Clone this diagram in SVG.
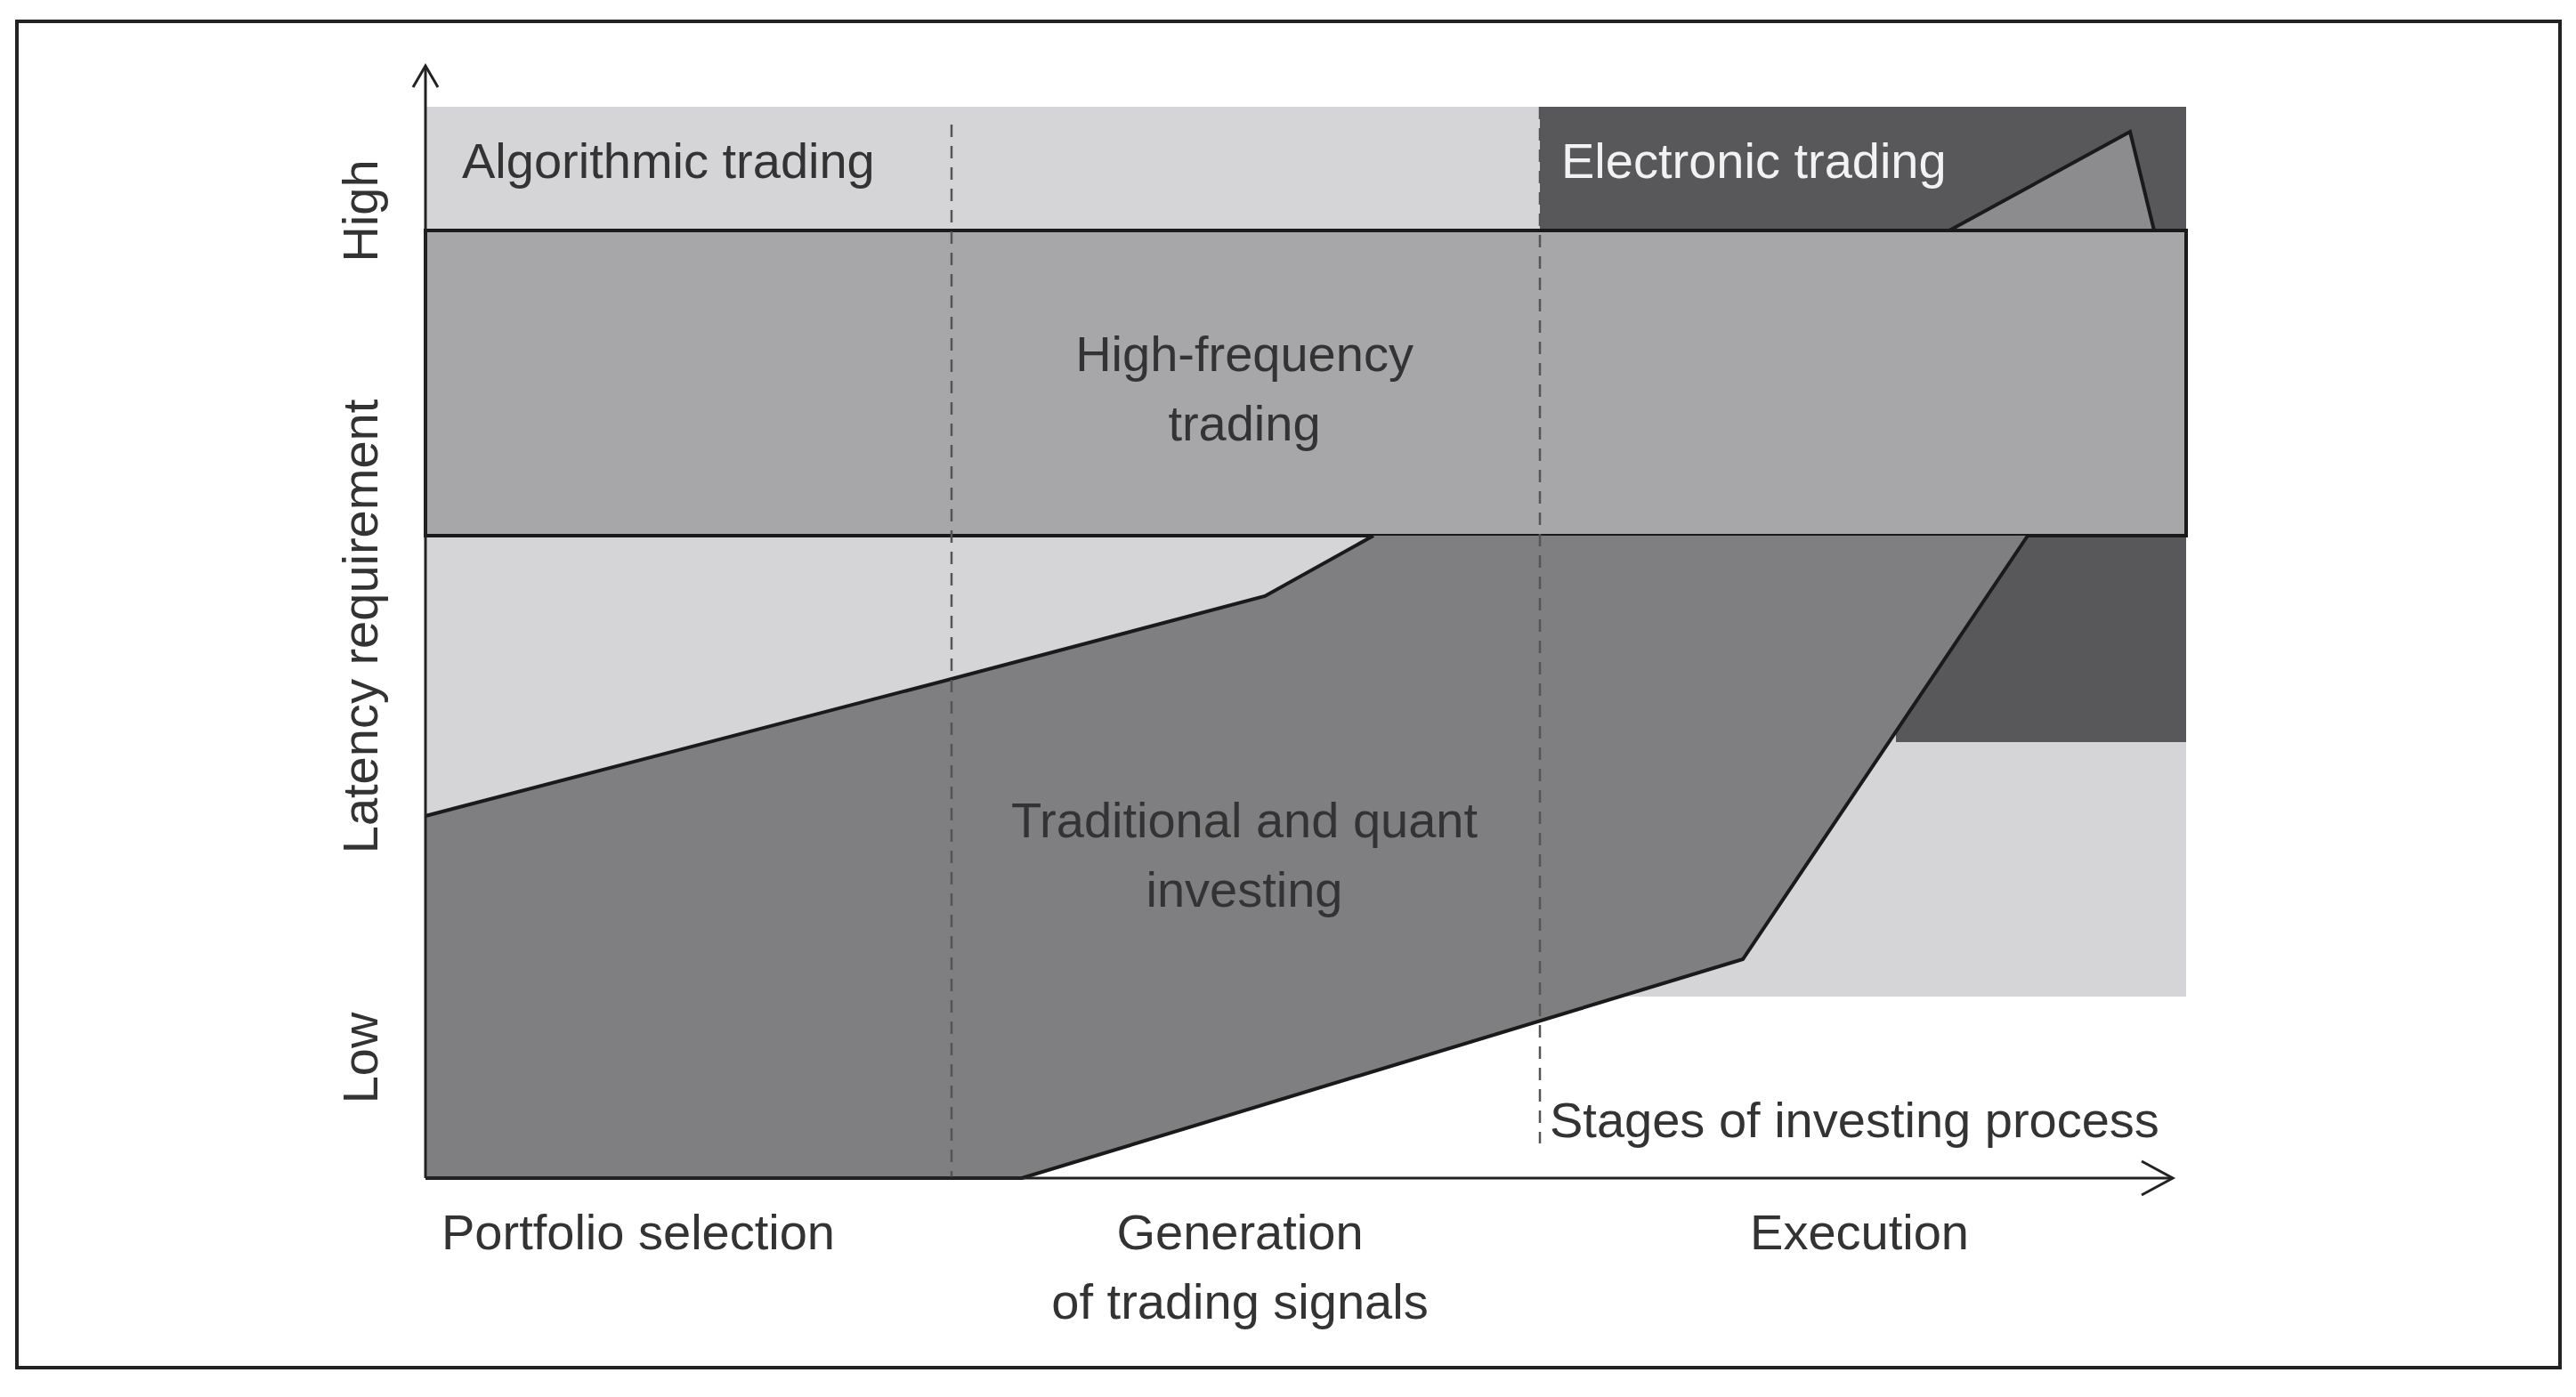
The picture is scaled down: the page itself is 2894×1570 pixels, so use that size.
<svg xmlns="http://www.w3.org/2000/svg" width="2894" height="1570" viewBox="0 0 2894 1570">
<style>
text{font-family:"Liberation Sans",Arial,sans-serif;font-size:56px;fill:#333}
.c{text-anchor:middle}
.edge{fill:none;stroke:#1a1a1a;stroke-width:4}
.dash{stroke:#555;stroke-width:2.5;stroke-dasharray:14 10;fill:none}
.axis{stroke:#222;stroke-width:3;fill:none}
</style>
<rect x="0" y="0" width="2894" height="1570" fill="#fff"/>
<rect x="19" y="24" width="2857" height="1513" fill="#fff" stroke="#222" stroke-width="4"/>
<g id="regions">
<rect id="algo-bg" x="478" y="120" width="1252" height="139" fill="#d5d5d7"/>
<rect id="elec-bg" x="1730" y="120" width="726" height="139" fill="#58585a"/>
<polygon id="elec-tri" points="2190,259 2393,148 2420,259" fill="#8c8c8e" stroke="#1a1a1a" stroke-width="4"/>
<rect id="low-light" x="478" y="602" width="1978" height="518" fill="#d5d5d7"/>
<rect id="low-dark" x="2130" y="602" width="326" height="232" fill="#58585a"/>
<rect id="hft" x="478" y="259" width="1978" height="343" fill="#a7a7a9" stroke="#1a1a1a" stroke-width="4"/>
<polygon id="quant" points="478,917 1069,763 1421,670 1543,602 2278,602 1958,1078 1148,1324 478,1324" fill="#7f7f81"/>
<polyline class="edge" points="478,917 1069,763 1421,670 1543,602"/>
<polyline class="edge" points="2278,602 1958,1078 1148,1324 478,1324"/>
</g>
<g id="connectors">
<line class="dash" x1="1069" y1="140" x2="1069" y2="1324"/>
<line class="dash" x1="1730" y1="120" x2="1730" y2="1285"/>
<line class="axis" x1="478" y1="1324" x2="478" y2="74"/>
<polyline class="axis" points="464,98 478,74 492,98"/>
<line class="axis" x1="478" y1="1324" x2="2441" y2="1324"/>
<polyline class="axis" points="2406,1305 2441,1324 2406,1343"/>
</g>
<g id="labels">
<text x="519" y="200">Algorithmic trading</text>
<text x="1754" y="200" fill="#f2f2f2" style="fill:#f2f2f2">Electronic trading</text>
<text class="c" x="1398" y="417">High-frequency</text>
<text class="c" x="1398" y="495">trading</text>
<text class="c" x="1398" y="941">Traditional and quant</text>
<text class="c" x="1398" y="1019">investing</text>
<text x="1741" y="1278">Stages of investing process</text>
<text x="496" y="1404">Portfolio selection</text>
<text class="c" x="1393" y="1404">Generation</text>
<text class="c" x="1393" y="1482">of trading signals</text>
<text class="c" x="2089" y="1404">Execution</text>
<text class="c" transform="translate(424,237) rotate(-90)">High</text>
<text class="c" transform="translate(424,704) rotate(-90)">Latency requirement</text>
<text class="c" transform="translate(424,1189) rotate(-90)">Low</text>
</g>
</svg>
